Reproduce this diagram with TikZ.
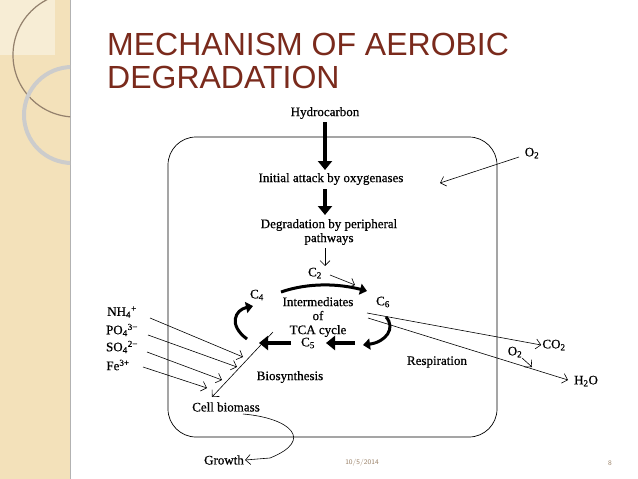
\documentclass[tikz,border=0pt]{standalone}
\usepackage{fontspec}
\setmainfont{Liberation Serif}[FakeBold=0.6]
\newfontfamily\titlefont{Liberation Sans}
\usetikzlibrary{arrows.meta}
\definecolor{side}{HTML}{F3E1BA}
\definecolor{ttl}{HTML}{7A2A1C}
\tikzset{
  lbl/.style={font=\fontsize{13}{14}\selectfont, inner sep=1pt},
  thin/.style={-{Straight Barb[length=5pt]}, line width=0.6pt},
  fat/.style={-{Triangle[length=9pt,width=14pt]}, line width=4.5pt},
  fatc/.style={-{Triangle[length=7pt,width=11pt]}, line width=3pt},
}
\begin{document}
\begin{tikzpicture}[x=1pt,y=-1pt]
\useasboundingbox (0,0) rectangle (638,479);
\fill[white] (0,0) rectangle (638,479);
\fill[side] (0,0) rectangle (70,479);
\fill[white,opacity=0.4] (0,0) rectangle (55,55);
\draw[gray!60, line width=0.8pt] (70,0) -- (70,479);
\begin{scope}
\clip (0,0) rectangle (70,479);
\draw[gray!70!brown, line width=1.2pt] (75,55) circle (62);
\draw[gray!40, line width=4pt] (72,115) circle (48);
\end{scope}
\node[anchor=west, text=ttl, font=\titlefont\fontsize{32}{33}\selectfont, align=left, inner sep=0] (title) at (107,61) {MECHANISM OF AEROBIC\\DEGRADATION};
% cell
\draw[line width=0.7pt, rounded corners=28] (168,137) rectangle (497,437);
\node[lbl] (hc) at (325,113) {Hydrocarbon};
\node[lbl] (ia) at (331,179) {Initial attack by oxygenases};
\node[lbl, align=center] (dp) at (329,232) {Degradation by peripheral\\pathways};
\node[lbl] (c2) at (315,273) {C\textsubscript{2}};
\node[lbl] (c4) at (257,295) {C\textsubscript{4}};
\node[lbl] (c6) at (383,302) {C\textsubscript{6}};
\node[lbl, align=center] (tca) at (318,317) {Intermediates\\of\\TCA cycle};
\node[lbl] (c5) at (308,343) {C\textsubscript{5}};
\node[lbl] (o2a) at (532,153) {O\textsubscript{2}};
\node[lbl] (nh) at (122,312) {NH\textsubscript{4}\textsuperscript{+}};
\node[lbl] (po) at (122,330) {PO\textsubscript{4}\textsuperscript{3\textminus}};
\node[lbl] (so) at (122,347) {SO\textsubscript{4}\textsuperscript{2\textminus}};
\node[lbl] (fe) at (118,365) {Fe\textsuperscript{3+}};
\node[lbl] (bio) at (290,377) {Biosynthesis};
\node[lbl] (cb) at (226,407) {Cell biomass};
\node[lbl] (resp) at (437,362) {Respiration};
\node[lbl] (co2) at (554,345) {CO\textsubscript{2}};
\node[lbl] (o2b) at (515,352) {O\textsubscript{2}};
\node[lbl] (h2o) at (586,381) {H\textsubscript{2}O};
\node[lbl] (gr) at (224,460) {Growth};
\node[font=\sffamily\fontsize{7}{8}\selectfont, text=gray!60!brown] (date) at (362,463) {10/5/2014};
\node[font=\sffamily\fontsize{7}{8}\selectfont, text=gray!60!brown] (pg) at (610,463) {8};
% arrows
\draw[fat] (325,122) -- (325,170);
\draw[fat] (325,189) -- (325,215);
\coordinate (o2s) at (519,157);
\draw[thin] (o2s) -- (440,183);
\draw[thin] (325,248) -- (325,266);
\draw[thin] (330,275) -- (355,285);
\draw[fatc] (281,292) .. controls (310,282) and (340,284) .. (367,291);
\draw[fatc] (247,339) .. controls (228,325) and (235,310) .. (253,306);
\draw[fatc] (386,317) .. controls (396,328) and (386,342) .. (363,345);
\draw[fat] (355,343) -- (326,343);
\draw[fat] (291,343) -- (259,343);
\draw[thin] (273,332) -- (212,397);
\draw[thin] (150,318) -- (243,357);
\draw[thin] (148,335) -- (237,367);
\draw[thin] (147,352) -- (222,380);
\draw[thin] (143,367) -- (207,388);
\draw[thin] (367,313) -- (co2.west);
\draw[thin] (368,318) -- (568,380);
\draw[thin] (522,358) -- (532,367);
\draw[thin] (243,414) .. controls (290,418) and (315,440) .. (270,458) -- (gr.east);
\end{tikzpicture}
\end{document}
